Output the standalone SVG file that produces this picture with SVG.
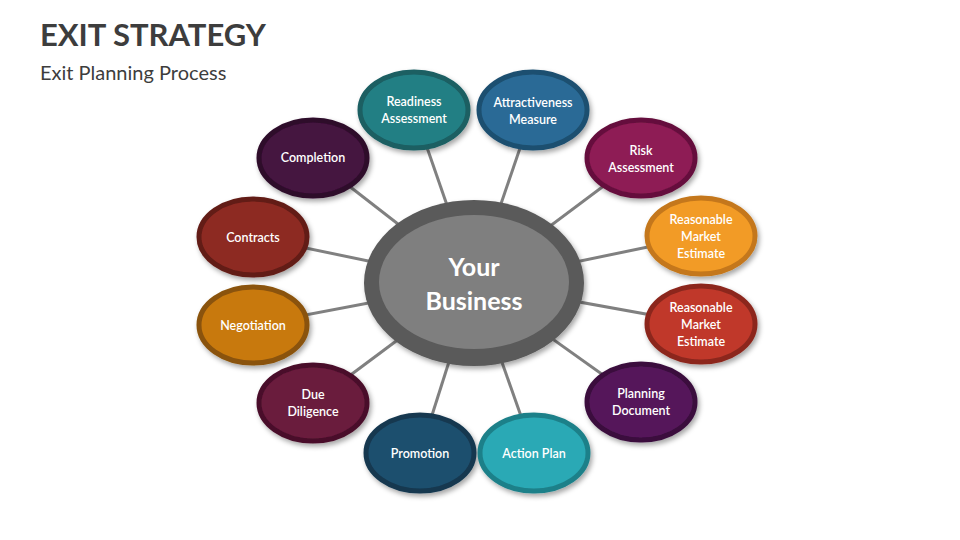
<svg xmlns="http://www.w3.org/2000/svg" width="960" height="540" viewBox="0 0 960 540">
<defs>
<filter id="sh" x="-20%" y="-20%" width="140%" height="150%"><feDropShadow dx="2" dy="3" stdDeviation="2.5" flood-color="#000" flood-opacity="0.35"/></filter>
</defs>
<style>
.t{font-family:Lato,"Open Sans","Liberation Sans",sans-serif;fill:#fff;font-size:12.5px;font-weight:600;text-anchor:middle}
.n{stroke-width:5;filter:url(#sh)}
.c line{stroke:#808080;stroke-width:3}
</style>
<rect width="960" height="540" fill="#fff"/>
<text x="40" y="46" style="font-family:Lato,'Liberation Sans',sans-serif;font-weight:700;font-size:31px;fill:#3d3d3d">EXIT STRATEGY</text>
<text x="40" y="80" style="font-family:Lato,'Liberation Sans',sans-serif;font-size:20px;fill:#3d3d3d">Exit Planning Process</text>
<g id="connectors" class="c">
<line x1="474" y1="283" x2="414" y2="110"/><line x1="474" y1="283" x2="533" y2="110"/>
<line x1="474" y1="283" x2="313" y2="158"/><line x1="474" y1="283" x2="641" y2="158"/>
<line x1="474" y1="283" x2="253" y2="237"/><line x1="474" y1="283" x2="701" y2="236"/>
<line x1="474" y1="283" x2="253" y2="325"/><line x1="474" y1="283" x2="701" y2="324"/>
<line x1="474" y1="283" x2="313" y2="403"/><line x1="474" y1="283" x2="641" y2="402"/>
<line x1="474" y1="283" x2="420" y2="453"/><line x1="474" y1="283" x2="534" y2="453"/>
</g>
<g id="center"><ellipse cx="474" cy="283" rx="110" ry="83" fill="#5a5a5a" filter="url(#sh)"/><ellipse cx="474" cy="282" rx="95" ry="67" fill="#7f7f7f"/>
<text class="t" x="474" y="276" style="font-size:25px;font-weight:700">Your</text><text class="t" x="474" y="310" style="font-size:25px;font-weight:700">Business</text></g>
<g id="readiness"><ellipse class="n" cx="414" cy="110" rx="54" ry="38" fill="#237f84" stroke="#1a5e62"/><text class="t" x="414" y="106">Readiness</text><text class="t" x="414" y="123">Assessment</text></g>
<g id="attractiveness"><ellipse class="n" cx="533" cy="110" rx="54" ry="38" fill="#2a6b96" stroke="#1d4f70"/><text class="t" x="533" y="107">Attractiveness</text><text class="t" x="533" y="124">Measure</text></g>
<g id="completion"><ellipse class="n" cx="313" cy="158" rx="54" ry="38" fill="#44133f" stroke="#2e0c2b"/><text class="t" x="313" y="162">Completion</text></g>
<g id="risk"><ellipse class="n" cx="641" cy="158" rx="54" ry="38" fill="#8e1a55" stroke="#65113c"/><text class="t" x="641" y="155">Risk</text><text class="t" x="641" y="172">Assessment</text></g>
<g id="contracts"><ellipse class="n" cx="253" cy="237" rx="54" ry="38" fill="#8d2a22" stroke="#621c17"/><text class="t" x="253" y="242">Contracts</text></g>
<g id="estimate1"><ellipse class="n" cx="701" cy="236" rx="54" ry="38" fill="#f29b26" stroke="#c4771a"/><text class="t" x="701" y="224">Reasonable</text><text class="t" x="701" y="241">Market</text><text class="t" x="701" y="258">Estimate</text></g>
<g id="negotiation"><ellipse class="n" cx="253" cy="325" rx="54" ry="38" fill="#c8790e" stroke="#8a5309"/><text class="t" x="253" y="330">Negotiation</text></g>
<g id="estimate2"><ellipse class="n" cx="701" cy="324" rx="54" ry="38" fill="#c0392b" stroke="#8c281f"/><text class="t" x="701" y="312">Reasonable</text><text class="t" x="701" y="329">Market</text><text class="t" x="701" y="346">Estimate</text></g>
<g id="duediligence"><ellipse class="n" cx="313" cy="403" rx="54" ry="38" fill="#6b1a3e" stroke="#4a112a"/><text class="t" x="313" y="399">Due</text><text class="t" x="313" y="416">Diligence</text></g>
<g id="planning"><ellipse class="n" cx="641" cy="402" rx="54" ry="38" fill="#55185a" stroke="#3a0f3e"/><text class="t" x="641" y="398">Planning</text><text class="t" x="641" y="415">Document</text></g>
<g id="promotion"><ellipse class="n" cx="420" cy="453" rx="54" ry="38" fill="#1e4f6e" stroke="#143850"/><text class="t" x="420" y="458">Promotion</text></g>
<g id="actionplan"><ellipse class="n" cx="534" cy="453" rx="54" ry="38" fill="#2aa9b5" stroke="#1f8089"/><text class="t" x="534" y="458">Action Plan</text></g>
</svg>
